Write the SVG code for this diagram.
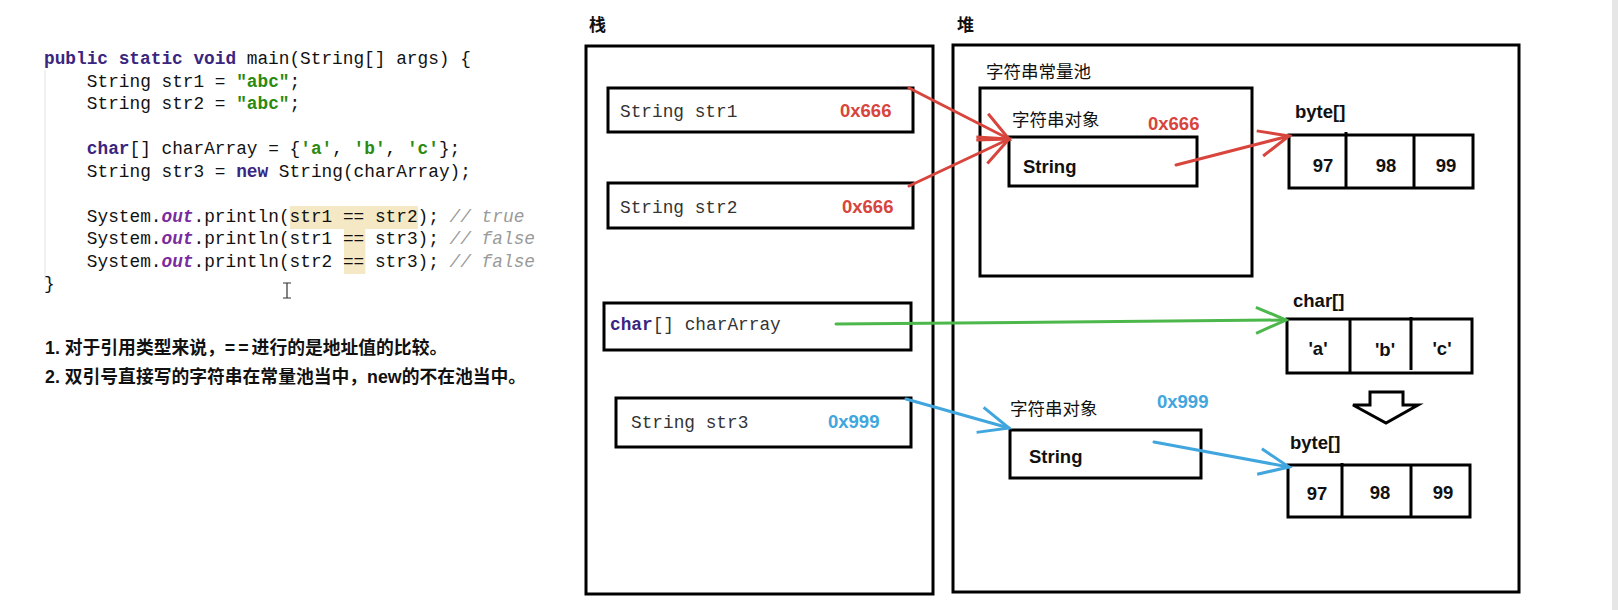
<svg xmlns="http://www.w3.org/2000/svg" width="1618" height="610" viewBox="0 0 1618 610">
<style>
.code{font-family:"Liberation Mono",monospace;font-size:17.8px;fill:#111;white-space:pre}
.kw{fill:#3a2580;font-weight:bold}
.st{fill:#2a8a10;font-weight:bold}
.out{fill:#7a2c9e;font-weight:bold;font-style:italic}
.cm{fill:#9a9a9a;font-style:italic}
.note{font-family:"Liberation Sans","Noto Sans CJK SC",sans-serif;font-size:17.8px;font-weight:bold;fill:#111}
.title{font-family:"Liberation Sans","Noto Sans CJK SC",sans-serif;font-size:17px;font-weight:bold;fill:#111}
.cn{font-family:"Noto Sans CJK SC",sans-serif;font-size:17.5px;fill:#111}
.box{fill:none;stroke:#000;stroke-width:3}
.var{font-family:"Liberation Mono",monospace;font-size:17.8px;fill:#333;white-space:pre}
.addr{font-family:"Liberation Sans",sans-serif;font-size:18.5px;font-weight:bold}
.lbl{font-family:"Liberation Sans",sans-serif;font-size:18.5px;font-weight:bold;fill:#111}
.red{fill:#d8453c}
.blue{fill:#41a6de}
.ar{fill:none;stroke-width:3;stroke-linecap:round}
</style>
<defs>
<marker id="mr" markerUnits="userSpaceOnUse" viewBox="-35 -20 40 40" markerWidth="40" markerHeight="40" refX="0" refY="0" orient="auto"><path d="M-30,-13 L0,0 L-30,13" fill="none" stroke="#d8453c" stroke-width="3"/></marker>
<marker id="mg" markerUnits="userSpaceOnUse" viewBox="-35 -20 40 40" markerWidth="40" markerHeight="40" refX="0" refY="0" orient="auto"><path d="M-30,-13 L0,0 L-30,13" fill="none" stroke="#4cb84c" stroke-width="3"/></marker>
<marker id="mb" markerUnits="userSpaceOnUse" viewBox="-35 -20 40 40" markerWidth="40" markerHeight="40" refX="0" refY="0" orient="auto"><path d="M-30,-13 L0,0 L-30,13" fill="none" stroke="#41a6de" stroke-width="3"/></marker>
</defs>
<rect width="1618" height="610" fill="#fff"/>
<rect x="1612" y="0" width="6" height="610" fill="#e6e6e6"/>

<g id="code">
<line x1="45" y1="70" x2="45" y2="280" stroke="#ececec" stroke-width="1.5"/>
<rect x="290" y="206" width="128" height="23" fill="#f4e9c4"/>
<rect x="344" y="229" width="21.4" height="45" fill="#f4e9c4"/>
<text class="code" x="44" y="64"><tspan class="kw">public static void</tspan> main(String[] args) {</text>
<text class="code" x="86.8" y="86.5">String str1 = <tspan class="st">"abc"</tspan>;</text>
<text class="code" x="86.8" y="109">String str2 = <tspan class="st">"abc"</tspan>;</text>
<text class="code" x="86.8" y="154"><tspan class="kw">char</tspan>[] charArray = {<tspan class="st">'a'</tspan>, <tspan class="st">'b'</tspan>, <tspan class="st">'c'</tspan>};</text>
<text class="code" x="86.8" y="176.5">String str3 = <tspan class="kw">new</tspan> String(charArray);</text>
<text class="code" x="86.8" y="221.5">System.<tspan class="out">out</tspan>.println(str1 == str2); <tspan class="cm">// true</tspan></text>
<text class="code" x="86.8" y="244">System.<tspan class="out">out</tspan>.println(str1 == str3); <tspan class="cm">// false</tspan></text>
<text class="code" x="86.8" y="266.5">System.<tspan class="out">out</tspan>.println(str2 == str3); <tspan class="cm">// false</tspan></text>
<text class="code" x="44" y="289">}</text>
<path d="M283,283 h8 M287,283 v15 M283,298 h8" stroke="#333" stroke-width="1.2" fill="none"/>
</g>

<g id="notes">
<text class="note" x="45" y="354">1. 对于引用类型来说，<tspan letter-spacing="3">==</tspan>进行的是地址值的比较。</text>
<text class="note" x="45" y="383">2. 双引号直接写的字符串在常量池当中，new的不在池当中。</text>
</g>

<g id="stack">
<text class="title" x="589" y="31">栈</text>
<rect class="box" x="586" y="46" width="347" height="548"/>
</g>
<g id="str1">
<rect class="box" x="608" y="88" width="305" height="44"/>
<text class="var" x="620" y="117">String str1</text>
<text class="addr red" x="840" y="117">0x666</text>
</g>
<g id="str2">
<rect class="box" x="608" y="183" width="305" height="45"/>
<text class="var" x="620" y="213">String str2</text>
<text class="addr red" x="842" y="213">0x666</text>
</g>
<g id="charArray">
<rect class="box" x="604" y="303" width="307" height="47"/>
<text class="var" x="610" y="330"><tspan class="kw">char</tspan>[] charArray</text>
</g>
<g id="str3">
<rect class="box" x="616" y="398" width="295" height="49"/>
<text class="var" x="631" y="428">String str3</text>
<text class="addr blue" x="828" y="428">0x999</text>
</g>

<g id="heap">
<text class="title" x="957" y="31">堆</text>
<rect class="box" x="953" y="45" width="566" height="547"/>
</g>
<g id="pool">
<text class="cn" x="986" y="78">字符串常量池</text>
<rect class="box" x="980" y="88" width="272" height="188"/>
</g>
<g id="strObj1">
<text class="cn" x="1012" y="126">字符串对象</text>
<text class="addr red" x="1148" y="130">0x666</text>
<rect class="box" x="1009" y="137" width="188" height="49"/>
<text class="lbl" x="1023" y="173">String</text>
</g>
<g id="byte1">
<text class="lbl" x="1295" y="118">byte[]</text>
<rect class="box" x="1289" y="135" width="184" height="53"/>
<line x1="1346" y1="132" x2="1346" y2="188" stroke="#000" stroke-width="3"/>
<line x1="1414" y1="135" x2="1414" y2="188" stroke="#000" stroke-width="3"/>
<text class="lbl" x="1323" y="172" text-anchor="middle">97</text>
<text class="lbl" x="1386" y="172" text-anchor="middle">98</text>
<text class="lbl" x="1446" y="172" text-anchor="middle">99</text>
</g>
<g id="charArr">
<text class="lbl" x="1293" y="307">char[]</text>
<rect class="box" x="1287" y="319" width="185" height="54"/>
<line x1="1350" y1="319" x2="1350" y2="373" stroke="#000" stroke-width="3"/>
<line x1="1411" y1="317" x2="1411" y2="370" stroke="#000" stroke-width="3"/>
<text class="lbl" x="1318" y="355" text-anchor="middle">'a'</text>
<text class="lbl" x="1385" y="356" text-anchor="middle">'b'</text>
<text class="lbl" x="1442" y="355" text-anchor="middle">'c'</text>
</g>
<g id="convert">
<polygon points="1370,392 1403,392 1403,405 1418,405 1386,423 1353,405 1370,405" fill="#fff" stroke="#000" stroke-width="3"/>
</g>
<g id="strObj2">
<text class="cn" x="1010" y="415">字符串对象</text>
<text class="addr blue" x="1157" y="408">0x999</text>
<rect class="box" x="1010" y="430" width="191" height="48"/>
<text class="lbl" x="1029" y="463">String</text>
</g>
<g id="byte2">
<text class="lbl" x="1290" y="449">byte[]</text>
<rect class="box" x="1288" y="465" width="182" height="52"/>
<line x1="1342" y1="463" x2="1342" y2="517" stroke="#000" stroke-width="3"/>
<line x1="1411" y1="465" x2="1411" y2="517" stroke="#000" stroke-width="3"/>
<text class="lbl" x="1317" y="500" text-anchor="middle">97</text>
<text class="lbl" x="1380" y="499" text-anchor="middle">98</text>
<text class="lbl" x="1443" y="499" text-anchor="middle">99</text>
</g>

<g id="connectors">
<line class="ar" x1="909" y1="88" x2="1009" y2="139" stroke="#d8453c" marker-end="url(#mr)"/>
<line class="ar" x1="909" y1="186" x2="1009" y2="139" stroke="#d8453c" marker-end="url(#mr)"/>
<line class="ar" x1="1176" y1="165" x2="1289" y2="136" stroke="#d8453c" marker-end="url(#mr)"/>
<line class="ar" x1="836" y1="324" x2="1286" y2="320" stroke="#4cb84c" marker-end="url(#mg)"/>
<line class="ar" x1="906" y1="399" x2="1009" y2="428" stroke="#41a6de" marker-end="url(#mb)"/>
<line class="ar" x1="1154" y1="442" x2="1289" y2="467" stroke="#41a6de" marker-end="url(#mb)"/>
</g>
</svg>
